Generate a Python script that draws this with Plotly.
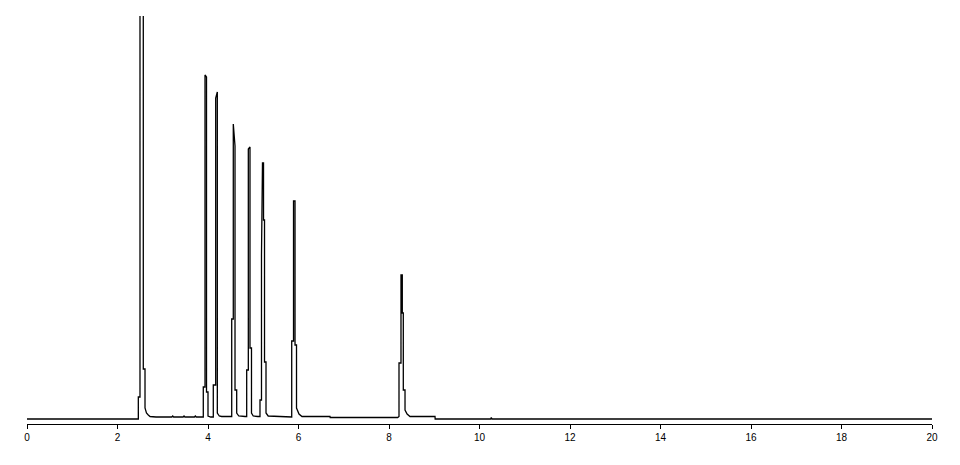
import plotly.graph_objects as go

times = [
    0.0, 2.46,
    2.46, 2.497, 2.497, 2.570, 2.570, 2.608, 2.608, 2.64, 2.68, 2.72, 2.85,
    3.20, 3.22, 3.24, 3.45, 3.47, 3.49, 3.70, 3.72, 3.74, 3.896,
    3.896, 3.934, 3.934, 3.967, 3.967, 4.000, 4.000, 4.06,
    4.117, 4.117, 4.170, 4.170, 4.192, 4.206, 4.206, 4.25, 4.30,
    4.524, 4.524, 4.559, 4.559, 4.597, 4.597, 4.634, 4.634, 4.68, 4.82,
    4.855, 4.855, 4.891, 4.891, 4.910, 4.928, 4.928, 4.961, 4.961, 5.00, 5.10,
    5.149, 5.149, 5.182, 5.182, 5.204, 5.227, 5.227, 5.249, 5.249, 5.282, 5.282, 5.33, 5.80,
    5.850, 5.850, 5.890, 5.890, 5.923, 5.923, 5.956, 5.956, 6.011, 6.077, 6.696, 6.70,
    8.192, 8.221, 8.221, 8.265, 8.265, 8.294, 8.294, 8.316, 8.316, 8.354, 8.354, 8.40, 8.464,
    9.017, 9.02, 10.25, 10.26, 10.28, 20.0,
]
signal = [
    0, 0,
    22, 22, 600, 600, 50, 50, 11, 6, 4, 2.5, 2,
    2, 3, 2, 2, 3, 2, 2, 3, 2, 2,
    32, 32, 344, 342, 27, 27, 3, 2,
    2, 34, 34, 321, 327, 327, 6, 3, 2.5,
    2.5, 100, 100, 295, 273, 29, 29, 6, 3, 2.5,
    2.5, 49, 49, 270, 272, 272, 71, 71, 6, 3, 2.5,
    2.5, 19, 19, 164, 256, 256, 199, 199, 57, 57, 6, 3, 2,
    2, 78, 78, 218, 218, 74, 74, 11, 5, 2.5, 2.5, 1.5,
    1.5, 2.5, 56, 56, 144, 144, 106, 106, 29, 29, 9, 5, 2.5,
    2.5, 0, 0, 1.5, 0, 0,
]

tick_vals = list(range(0, 21, 2))

fig = go.Figure()
fig.add_trace(go.Scatter(x=times, y=signal, mode='lines',
                         line=dict(color='black', width=1.3),
                         showlegend=False, hoverinfo='skip'))

# page body adds an 8px offset, margins make up for it
fig.update_layout(
    width=960, height=465,
    margin=dict(l=19, r=36, t=8, b=49),
    paper_bgcolor='white', plot_bgcolor='white',
    font=dict(family='Liberation Sans, Arial, sans-serif', size=10, color='black'),
    xaxis=dict(range=[0, 20], tickvals=tick_vals, ticktext=[str(v) for v in tick_vals],
               showline=True, linecolor='black', linewidth=1,
               ticks='outside', ticklen=4, tickwidth=1, tickcolor='black',
               showgrid=False, zeroline=False),
    yaxis=dict(range=[-5, 403], visible=False, showgrid=False, zeroline=False),
)

fig.write_html("out.html")
